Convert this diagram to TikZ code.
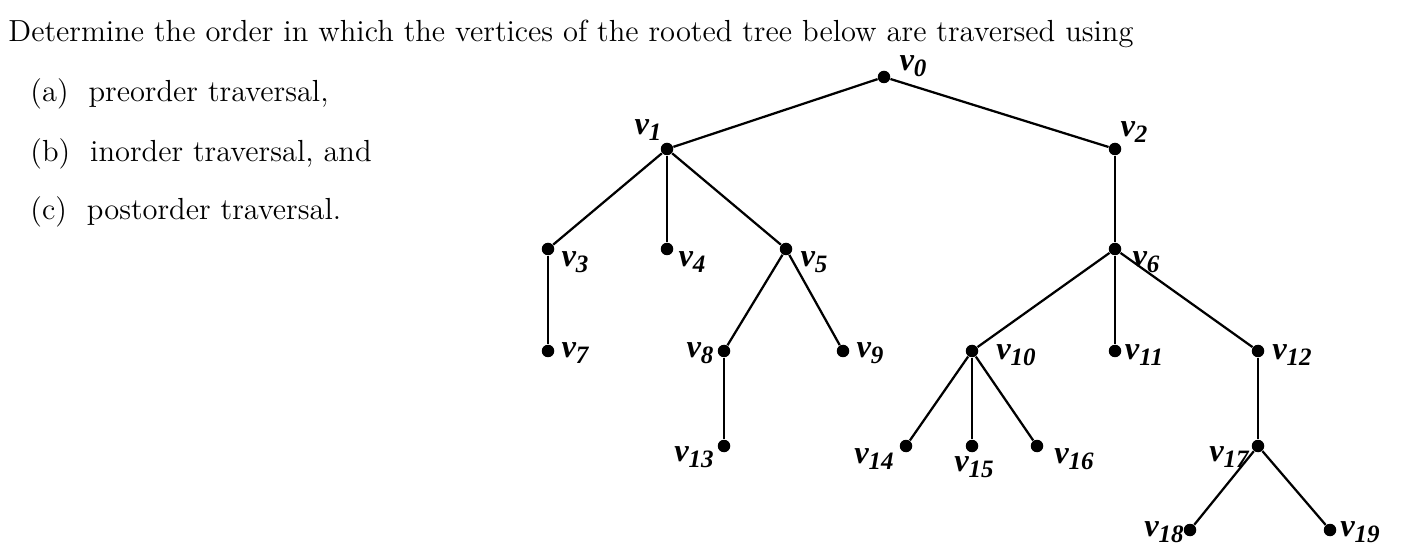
\documentclass[tikz,border=0pt]{standalone}
\usepackage{fontspec}
\newfontfamily\lab{Liberation Serif}
\begin{document}
\begin{tikzpicture}[x=0.4pt,y=-0.4pt,
  dot/.style={circle,fill,inner sep=0pt,minimum size=5pt},
  vl/.style={font=\lab\bfseries\itshape\fontsize{13}{14}\selectfont,inner sep=0pt},
  txt/.style={anchor=base west,inner sep=0pt,font=\fontsize{12.2}{14}\selectfont},
  edge/.style={line width=0.9pt}]
\useasboundingbox (0,0) rectangle (1404,558);
\node[txt] (t0) at (8,42) {Determine the order in which the vertices of the rooted tree below are traversed using};
\node[txt] (ta) at (30,102) {(a)\ \ preorder traversal,};
\node[txt] (tb) at (30,162) {(b)\ \ inorder traversal, and};
\node[txt] (tc) at (30,220) {(c)\ \ postorder traversal.};
\foreach \n/\x/\y in {0/884/77,1/667/149,2/1115/149,3/548/249,4/667/249,5/786/249,6/1115/249,
 7/548/351,8/724/351,9/843/351,10/972/351,11/1115/351,12/1258/351,13/724/446,14/906/446,
 15/972/446,16/1037/446,17/1258/446,18/1190/530,19/1330/530}
 \node[dot] (v\n) at (\x,\y) {};
\foreach \a/\b in {0/1,0/2,1/3,1/4,1/5,2/6,3/7,5/8,5/9,6/10,6/11,6/12,8/13,10/14,10/15,10/16,12/17,17/18,17/19}
 \draw[edge] (v\a) -- (v\b);
\foreach \n/\x/\y in {0/913/66,1/648/130,2/1134/132,3/575/262,4/692/262,5/814/262,6/1146/262,
 7/575/353,8/700/353,9/870/353,10/1016/355,11/1144/355,12/1292/355,13/694/457,14/874/459,
 15/974/467,16/1074/459,17/1229/457,18/1164/532,19/1360/532}
 \node[vl] (l\n) at (\x,\y) {v\raisebox{-0.4ex}{\fontsize{10}{11}\selectfont\n}};
\end{tikzpicture}
\end{document}
